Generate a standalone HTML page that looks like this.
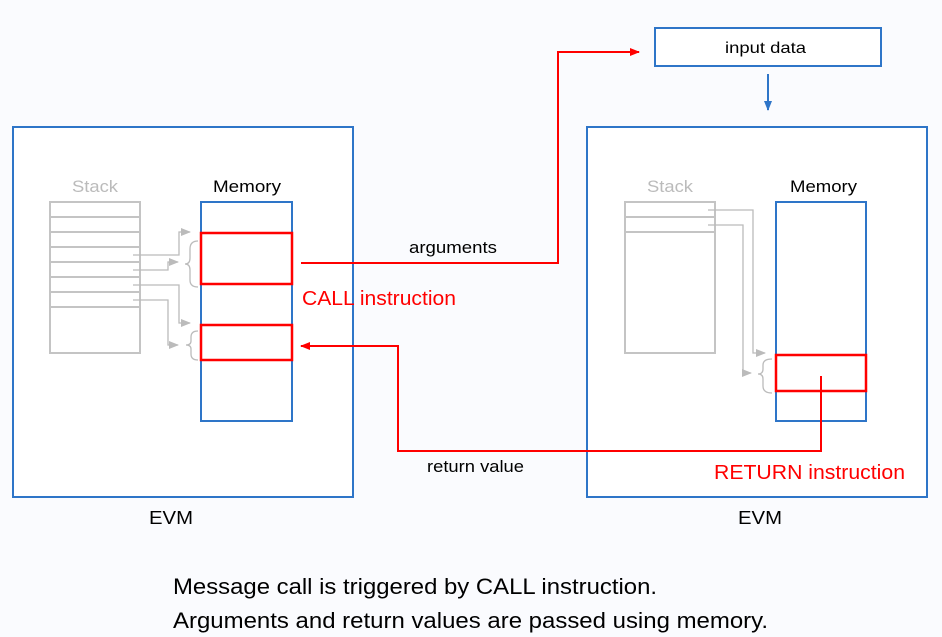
<!DOCTYPE html>
<html><head><style>
html,body{margin:0;padding:0;background:#fafbfe;}
svg{display:block;font-family:"Liberation Sans",sans-serif;}
</style></head><body>
<svg width="942" height="637" viewBox="0 0 942 637" xmlns="http://www.w3.org/2000/svg">
<defs>
<marker id="ar" markerWidth="10" markerHeight="8" refX="9" refY="4" orient="auto" markerUnits="userSpaceOnUse"><path d="M0,0 L10,4 L0,8z" fill="#f00"/></marker>
<marker id="ab" markerWidth="10" markerHeight="8" refX="9" refY="4" orient="auto" markerUnits="userSpaceOnUse"><path d="M0,0 L10,4 L0,8z" fill="#2e75c8"/></marker>
<marker id="ag" markerWidth="10" markerHeight="8" refX="9" refY="4" orient="auto" markerUnits="userSpaceOnUse"><path d="M0,0 L10,4 L0,8z" fill="#bbb"/></marker>
</defs>
<rect width="942" height="637" fill="#fafbfe"/>
<rect x="13" y="127" width="340" height="370" fill="#fff" stroke="#2e75c8" stroke-width="2"/>
<rect x="587" y="127" width="340" height="370" fill="#fff" stroke="#2e75c8" stroke-width="2"/>
<text x="149" y="524" font-size="18" textLength="44" lengthAdjust="spacingAndGlyphs">EVM</text>
<text x="738" y="524" font-size="18" textLength="44" lengthAdjust="spacingAndGlyphs">EVM</text>
<rect x="655" y="28" width="226" height="38" fill="#fff" stroke="#2e75c8" stroke-width="2"/>
<text x="725" y="53" font-size="16" textLength="81" lengthAdjust="spacingAndGlyphs">input data</text>
<line x1="768" y1="74" x2="768" y2="110" stroke="#2e75c8" stroke-width="2" marker-end="url(#ab)"/>
<text x="72" y="192" font-size="17" fill="#bbb" textLength="46" lengthAdjust="spacingAndGlyphs">Stack</text>
<g fill="none" stroke="#c4c4c4" stroke-width="2">
<rect x="50" y="202" width="90" height="151"/>
<line x1="50" y1="217" x2="140" y2="217"/><line x1="50" y1="232" x2="140" y2="232"/>
<line x1="50" y1="247" x2="140" y2="247"/><line x1="50" y1="262" x2="140" y2="262"/>
<line x1="50" y1="277" x2="140" y2="277"/><line x1="50" y1="292" x2="140" y2="292"/>
<line x1="50" y1="307" x2="140" y2="307"/>
</g>
<g fill="none" stroke="#bbb" stroke-width="1.3">
<path d="M133,255 H179 V232 H190" marker-end="url(#ag)"/>
<path d="M133,270 H168 V262 H178" marker-end="url(#ag)"/>
<path d="M133,285 H179 V323 H190" marker-end="url(#ag)"/>
<path d="M133,300 H168 V345 H178" marker-end="url(#ag)"/>
<path d="M198,241 Q190,241 190,249 V258 Q190,264 185,264 Q190,264 190,270 V280 Q190,287 198,287"/>
<path d="M198,331 Q191,331 191,337 V341 Q191,345 186,345 Q191,345 191,349 V354 Q191,360 198,360"/>
</g>
<text x="213" y="192" font-size="17" textLength="68" lengthAdjust="spacingAndGlyphs">Memory</text>
<rect x="201" y="202" width="91" height="219" fill="#fff" stroke="#2e75c8" stroke-width="2"/>
<rect x="201" y="233" width="91" height="51" fill="#fff" stroke="#f00" stroke-width="2.5"/>
<rect x="201" y="325" width="91" height="35" fill="#fff" stroke="#f00" stroke-width="2.5"/>
<text x="647" y="192" font-size="17" fill="#bbb" textLength="46" lengthAdjust="spacingAndGlyphs">Stack</text>
<g fill="none" stroke="#c4c4c4" stroke-width="2">
<rect x="625" y="202" width="90" height="151"/>
<line x1="625" y1="217" x2="715" y2="217"/><line x1="625" y1="232" x2="715" y2="232"/>
</g>
<g fill="none" stroke="#bbb" stroke-width="1.3">
<path d="M708,210 H753 V353 H765" marker-end="url(#ag)"/>
<path d="M708,225 H743 V373 H751" marker-end="url(#ag)"/>
<path d="M772,359 Q763,359 763,365 V369 Q763,374 758,374 Q763,374 763,379 V386 Q763,393 772,393"/>
</g>
<text x="790" y="192" font-size="17" textLength="67" lengthAdjust="spacingAndGlyphs">Memory</text>
<rect x="776" y="202" width="90" height="219" fill="#fff" stroke="#2e75c8" stroke-width="2"/>
<rect x="776" y="355" width="90" height="36" fill="#fff" stroke="#f00" stroke-width="2.5"/>
<path d="M301,263 H558 V52 H639" fill="none" stroke="#f00" stroke-width="2" marker-end="url(#ar)"/>
<path d="M821,376 V451 H398 V346 H301" fill="none" stroke="#f00" stroke-width="2" marker-end="url(#ar)"/>
<text x="409" y="253" font-size="17" textLength="88" lengthAdjust="spacingAndGlyphs">arguments</text>
<text x="427" y="472" font-size="17" textLength="97" lengthAdjust="spacingAndGlyphs">return value</text>
<text x="302" y="305" font-size="20" fill="#f00" textLength="154" lengthAdjust="spacingAndGlyphs">CALL instruction</text>
<text x="714" y="479" font-size="20" fill="#f00" textLength="191" lengthAdjust="spacingAndGlyphs">RETURN instruction</text>
<text x="173" y="594" font-size="22" textLength="484" lengthAdjust="spacingAndGlyphs">Message call is triggered by CALL instruction.</text>
<text x="173" y="628" font-size="22" textLength="595" lengthAdjust="spacingAndGlyphs">Arguments and return values are passed using memory.</text>
</svg>
</body></html>
